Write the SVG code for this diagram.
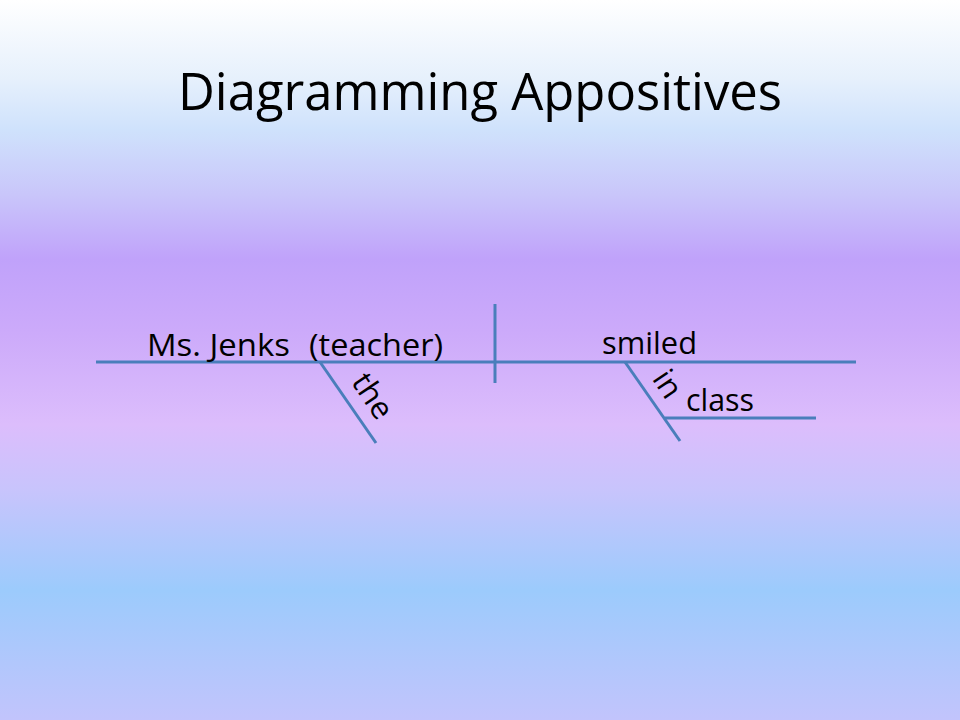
<svg xmlns="http://www.w3.org/2000/svg" width="960" height="720" viewBox="0 0 960 720">
<defs>
<linearGradient id="bg" x1="0" y1="0" x2="0" y2="1">
<stop offset="0" stop-color="#ffffff"/>
<stop offset="0.11" stop-color="#e6f0fc"/>
<stop offset="0.18" stop-color="#cfe2fc"/>
<stop offset="0.27" stop-color="#c9c6fa"/>
<stop offset="0.36" stop-color="#c0a2fa"/>
<stop offset="0.46" stop-color="#ccaafa"/>
<stop offset="0.59" stop-color="#dcbdfc"/>
<stop offset="0.68" stop-color="#c8c4fc"/>
<stop offset="0.82" stop-color="#9ccbfc"/>
<stop offset="1" stop-color="#c2c4fc"/>
</linearGradient>
</defs>
<style>
.t{font-family:"Open Sans","Liberation Sans",sans-serif;fill:#000}
.ln{stroke:#4a7ebb;stroke-width:3;fill:none}
</style>
<rect x="0" y="0" width="960" height="720" fill="url(#bg)"/>
<text class="t" x="178" y="110" font-size="51" textLength="604" lengthAdjust="spacingAndGlyphs">Diagramming Appositives</text>
<g id="connectors">
<line class="ln" x1="96" y1="362" x2="856" y2="362"/>
<line class="ln" x1="495" y1="304" x2="495" y2="383"/>
<line class="ln" x1="320" y1="362" x2="376" y2="443"/>
<line class="ln" x1="625" y1="362" x2="680" y2="441"/>
<line class="ln" x1="665" y1="418" x2="816" y2="418"/>
</g>
<g id="subject"><text class="t" x="147" y="356" font-size="31" textLength="143" lengthAdjust="spacingAndGlyphs">Ms. Jenks</text></g>
<g id="appositive"><text class="t" x="309" y="356" font-size="31" textLength="134" lengthAdjust="spacingAndGlyphs">(teacher)</text></g>
<g id="verb"><text class="t" x="602" y="354" font-size="31" textLength="95" lengthAdjust="spacingAndGlyphs">smiled</text></g>
<g id="the"><text class="t" font-size="31" text-anchor="middle" textLength="48" lengthAdjust="spacingAndGlyphs" transform="translate(364,402) rotate(56)">the</text></g>
<g id="in"><text class="t" font-size="31" text-anchor="middle" transform="translate(659,390) rotate(56)">in</text></g>
<g id="class"><text class="t" x="686" y="411" font-size="31" textLength="68" lengthAdjust="spacingAndGlyphs">class</text></g>
</svg>
